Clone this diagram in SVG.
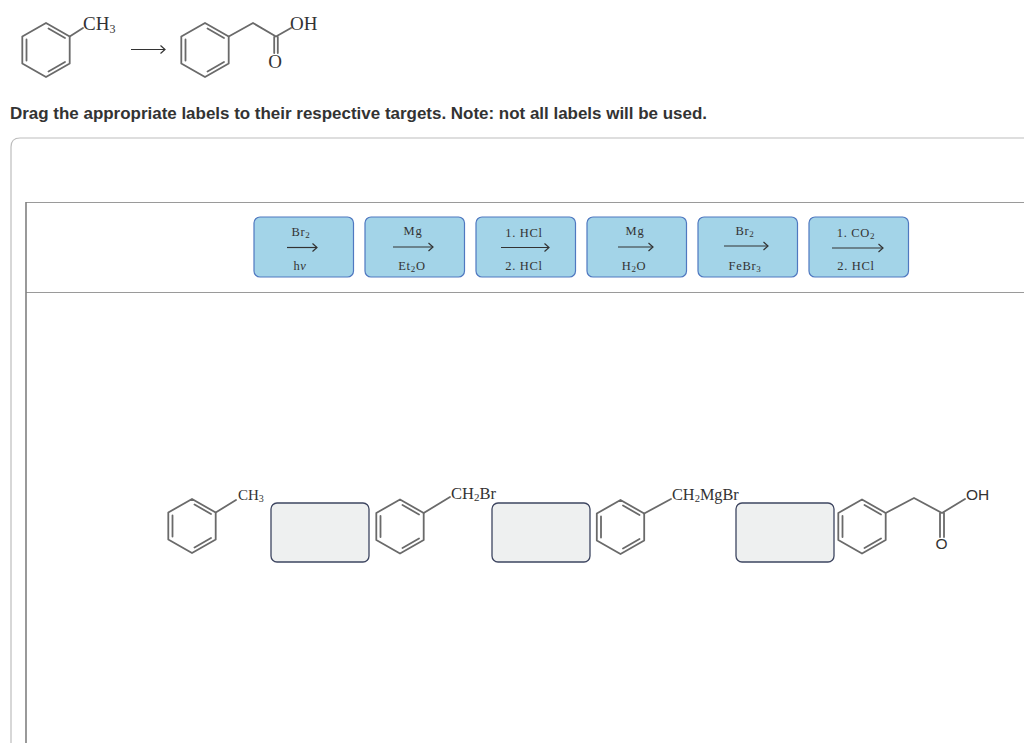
<svg xmlns="http://www.w3.org/2000/svg" width="1024" height="743" viewBox="0 0 1024 743">
<style>
text{font-family:"Liberation Serif","Times New Roman",serif;fill:#333}
.b{fill:none;stroke:#6a6a6a;stroke-width:1.8;stroke-linecap:round;stroke-linejoin:round}
.tile{fill:#a3d4e8;stroke:#4f78c0;stroke-width:1.2}
.slot{fill:#eef0f0;stroke:#3d4560;stroke-width:1.3}
.t{font-size:12.5px;text-anchor:middle;letter-spacing:.7px}
.a{fill:none;stroke:#333;stroke-width:1.2}
.sans{font-family:"Liberation Sans",Arial,sans-serif;font-size:15.5px}
</style>
<defs>
<g id="ring">
<path class="b" d="M0-27L23.700-13.500V13.500L0 27L-23.700 13.500V-13.500Z"/>
<path class="b" d="M-19.500-10.500V10.500M2.500-21.500L19-12M19 12L2.500 21.500"/>
</g>
<path id="head" d="M-4.500-4L0 0L-4.500 4" class="a"/>
</defs>
<rect width="1024" height="743" fill="#fff"/>
<g id="reaction-top">
<use href="#ring" x="46" y="50"/>
<path class="b" d="M69.700 36.500L83 28"/>
<text x="83" y="30" style="font-size:19px">CH<tspan dy="3" style="font-size:12px">3</tspan></text>
<path class="a" d="M131 49.500H165"/><use href="#head" x="165" y="49.500"/>
<use href="#ring" x="205" y="50"/>
<path class="b" d="M228.700 36.500L253 23L276 36.500L291 28M274.200 37V53M277.800 37V53"/>
<text x="290" y="30" style="font-size:19px">OH</text>
<text x="275" y="68" text-anchor="middle" style="font-size:19px">O</text>
</g>
<text id="prompt" x="10" y="119" textLength="697" lengthAdjust="spacingAndGlyphs" style="font-family:'Liberation Sans',Arial,sans-serif;font-weight:700;font-size:16px;fill:#333">Drag the appropriate labels to their respective targets. Note: not all labels will be used.</text>
<g id="panel">
<path d="M1030 138H20Q11 138 11 147V743" fill="none" stroke="#bdbdbd" stroke-width="1.2"/>
<path d="M1024 202.500H26M1024 292.500H26" fill="none" stroke="#9a9a9a" stroke-width="1"/>
<path d="M26 202V743" fill="none" stroke="#808080" stroke-width="1.6"/>
</g>
<g id="label-br2-hv">
<rect class="tile" x="254" y="217" width="99.500" height="60" rx="6"/>
<text class="t" x="301" y="236">Br<tspan dy="2" font-size="9">2</tspan></text>
<path class="a" d="M287 247.500H317"/><use href="#head" x="317" y="247.500"/>
<text class="t" x="300" y="270">h<tspan font-style="italic">ν</tspan></text>
</g>
<g id="label-mg-et2o">
<rect class="tile" x="365" y="217" width="99.500" height="60" rx="6"/>
<text class="t" x="413" y="235">Mg</text>
<path class="a" d="M393 247H433"/><use href="#head" x="433" y="247"/>
<text class="t" x="412" y="270">Et<tspan dy="2" font-size="9">2</tspan><tspan dy="-2">O</tspan></text>
</g>
<g id="label-hcl-hcl">
<rect class="tile" x="476" y="217" width="99.500" height="60" rx="6"/>
<text class="t" x="524" y="237">1. HCl</text>
<path class="a" d="M501 247.500H549"/><use href="#head" x="549" y="247.500"/>
<text class="t" x="524" y="270">2. HCl</text>
</g>
<g id="label-mg-h2o">
<rect class="tile" x="587" y="217" width="99.500" height="60" rx="6"/>
<text class="t" x="635" y="235">Mg</text>
<path class="a" d="M618 247H653"/><use href="#head" x="653" y="247"/>
<text class="t" x="634" y="270">H<tspan dy="2" font-size="9">2</tspan><tspan dy="-2">O</tspan></text>
</g>
<g id="label-br2-febr3">
<rect class="tile" x="698" y="217" width="99.500" height="60" rx="6"/>
<text class="t" x="745" y="235">Br<tspan dy="2" font-size="9">2</tspan></text>
<path class="a" d="M724 246H768"/><use href="#head" x="768" y="246"/>
<text class="t" x="745" y="270">FeBr<tspan dy="2" font-size="9">3</tspan></text>
</g>
<g id="label-co2-hcl">
<rect class="tile" x="809" y="217" width="99.500" height="60" rx="6"/>
<text class="t" x="856" y="237">1. CO<tspan dy="2" font-size="9">2</tspan></text>
<path class="a" d="M832 248H883"/><use href="#head" x="883" y="248"/>
<text class="t" x="856" y="270">2. HCl</text>
</g>
<g id="toluene">
<use href="#ring" x="192" y="526"/>
<path class="b" d="M215.700 512.500L236 500"/>
<text x="238" y="500" style="font-size:15px">CH<tspan dy="2" style="font-size:10px">3</tspan></text>
</g>
<g id="target-1"><rect class="slot" x="271" y="503" width="98" height="59" rx="6"/></g>
<g id="benzyl-bromide">
<use href="#ring" x="400" y="526.500"/>
<path class="b" d="M423.700 513L450 497"/>
<text x="451" y="499" style="font-size:16.500px">CH<tspan dy="2" style="font-size:11px">2</tspan><tspan dy="-2">Br</tspan></text>
</g>
<g id="target-2"><rect class="slot" x="492" y="503" width="98" height="59" rx="6"/></g>
<g id="benzyl-grignard">
<use href="#ring" x="620.500" y="527"/>
<path class="b" d="M644.200 513.500L671 499"/>
<text x="672" y="500" style="font-size:16.300px">CH<tspan dy="2" style="font-size:10.500px">2</tspan><tspan dy="-2">MgBr</tspan></text>
</g>
<g id="target-3"><rect class="slot" x="736" y="503" width="98" height="59" rx="6"/></g>
<g id="phenylacetic-acid">
<use href="#ring" x="862" y="526.500"/>
<path class="b" d="M885.700 513L914 498L942 513L965 499M940 513V537M944 513V537"/>
<text class="sans" x="966" y="499.500">OH</text>
<text class="sans" x="941.500" y="549" text-anchor="middle">O</text>
</g>
</svg>
